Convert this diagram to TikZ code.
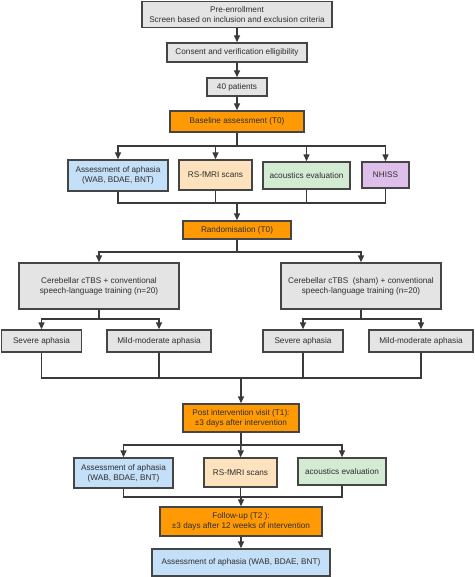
\documentclass[tikz,border=0pt]{standalone}
\usepackage{fontspec}
\setmainfont{Liberation Sans}
\usetikzlibrary{arrows.meta}
\definecolor{lc}{HTML}{3A3A3A}
\definecolor{bc}{HTML}{454545}
\definecolor{tc}{HTML}{2E2E2E}
\definecolor{grayf}{HTML}{E4E4E4}
\definecolor{orangef}{HTML}{FF9A05}
\definecolor{bluef}{HTML}{C4DFF8}
\definecolor{peachf}{HTML}{FDE2BD}
\definecolor{greenf}{HTML}{D3EAD3}
\definecolor{purplef}{HTML}{DEBFE9}
\tikzset{
  box/.style={draw=bc, line width=1.4pt, inner sep=0pt, align=center, text=tc,
    font=\fontsize{8.2pt}{10pt}\selectfont},
  gbox/.style={box, fill=grayf},
  obox/.style={box, fill=orangef},
  bbox/.style={box, fill=bluef},
  pbox/.style={box, fill=peachf},
  grbox/.style={box, fill=greenf},
  ubox/.style={box, fill=purplef},
  ln/.style={draw=lc, line width=1.4pt},
  arr/.style={ln, -{Triangle[length=7pt,width=6pt]}},
}
\newcommand{\bx}[7]{\node[#1, minimum width=#5pt, minimum height=#6pt] (#2) at (#3,#4) {#7};}
\begin{document}
\begin{tikzpicture}[x=1pt,y=-1pt]
\useasboundingbox (0,0) rectangle (474,577);
\bx{gbox}{pre}{237}{14.5}{190}{26}{Pre-enrollment\\Screen based on inclusion and exclusion criteria}
\bx{gbox}{con}{237}{52.5}{140}{19}{Consent and verification elligibility}
\bx{gbox}{pat}{237}{87}{60}{18}{40 patients}
\bx{obox}{base}{237}{121.5}{134}{21}{Baseline assessment (T0)}
\bx{bbox}{aph1}{118}{175.5}{100}{31}{Assessment of aphasia\\(WAB, BDAE, BNT)}
\bx{pbox}{rs1}{215.5}{175}{73}{30}{RS-fMRI scans}
\bx{grbox}{ac1}{306.5}{175.5}{87}{27}{acoustics evaluation}
\bx{ubox}{nh}{385.5}{175}{47}{26}{NHISS}
\bx{obox}{rand}{237}{230}{108}{18}{Randomisation (T0)}
\bx{gbox}{gl}{99}{286}{160}{46}{Cerebellar cTBS + conventional\\speech-language training (n=20)}
\bx{gbox}{gr}{361}{286}{160}{46}{Cerebellar cTBS\ \ (sham) + conventional\\speech-language training (n=20)}
\bx{gbox}{sl}{41.5}{341}{80}{22}{Severe aphasia}
\bx{gbox}{ml}{159}{341}{104}{22}{Mild-moderate aphasia}
\bx{gbox}{sr}{303}{341}{80}{22}{Severe aphasia}
\bx{gbox}{mr}{421}{341}{104}{22}{Mild-moderate aphasia}
\bx{obox}{post}{241}{418}{116}{28}{Post intervention visit (T1):\\±3 days after intervention}
\bx{bbox}{aph2}{123.5}{473}{99}{30}{Assessment of aphasia\\(WAB, BDAE, BNT)}
\bx{pbox}{rs2}{240.5}{472.5}{73}{29}{RS-fMRI scans}
\bx{grbox}{ac2}{342}{471.5}{88}{27}{acoustics evaluation}
\bx{obox}{fu}{241}{521.5}{162}{29}{Follow-up (T2 ):\\±3 days after 12 weeks of intervention}
\bx{bbox}{fin}{241}{562.5}{178}{27}{Assessment of aphasia (WAB, BDAE, BNT)}
% junctions
\coordinate (j1) at (237,146);
\coordinate (j2) at (237,203);
\coordinate (j3) at (237,252);
\coordinate (jl) at (99,319);
\coordinate (jr) at (361,319);
\coordinate (j4) at (241,378);
\coordinate (j5) at (241,445);
\coordinate (j6) at (241,497);
% top chain
\draw[arr] (pre) -- (con);
\draw[arr] (con) -- (pat);
\draw[arr] (pat) -- (base);
\draw[ln] (base) -- (j1);
\draw[arr] (j1) -| (aph1.north);
\draw[arr] (j1) -| (rs1.north);
\draw[arr] (j1) -| (ac1.north);
\draw[arr] (j1) -| (nh.north);
\draw[ln] (aph1.south) |- (j2);
\draw[ln] (rs1.south) |- (j2);
\draw[ln] (ac1.south) |- (j2);
\draw[ln] (nh.south) |- (j2);
\draw[arr] (j2) -- (rand);
\draw[ln] (rand) -- (j3);
\draw[arr] (j3) -| (gl.north);
\draw[arr] (j3) -| (gr.north);
\draw[ln] (gl) -- (jl);
\draw[arr] (jl) -| (sl.north);
\draw[arr] (jl) -| (ml.north);
\draw[ln] (gr) -- (jr);
\draw[arr] (jr) -| (sr.north);
\draw[arr] (jr) -| (mr.north);
\draw[ln] (sl.south) |- (j4);
\draw[ln] (ml.south) |- (j4);
\draw[ln] (sr.south) |- (j4);
\draw[ln] (mr.south) |- (j4);
\draw[arr] (j4) -- (post);
\draw[ln] (post) -- (j5);
\draw[arr] (j5) -| (aph2.north);
\draw[arr] (j5) -- (rs2.north);
\draw[arr] (j5) -| (ac2.north);
\draw[ln] (aph2.south) |- (j6);
\draw[ln] (rs2.south) |- (j6);
\draw[ln] (ac2.south) |- (j6);
\draw[arr] (j6) -- (fu);
\draw[arr] (fu) -- (fin);
\end{tikzpicture}
\end{document}
